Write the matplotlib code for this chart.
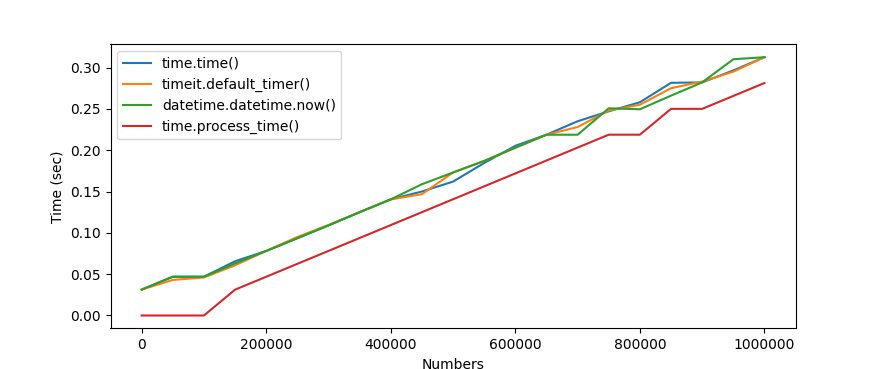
import matplotlib
matplotlib.use('Agg')
import matplotlib.pyplot as plt

# --- данные ---
numbers = list(range(0, 1000001, 50000))

t_time = [0.0313, 0.0469, 0.0469, 0.0656, 0.0781, 0.0935, 0.1090, 0.1250, 0.1405,
          0.1500, 0.1620, 0.1845, 0.2053, 0.2187, 0.2350, 0.2470, 0.2580, 0.2815,
          0.2820, 0.2965, 0.3125]
t_timeit = [0.0313, 0.0430, 0.0460, 0.0607, 0.0781, 0.0950, 0.1095, 0.1250, 0.1405,
            0.1467, 0.1730, 0.1870, 0.2030, 0.2187, 0.2280, 0.2480, 0.2550, 0.2750,
            0.2830, 0.2950, 0.3125]
t_datetime = [0.0313, 0.0469, 0.0469, 0.0630, 0.0781, 0.0935, 0.1090, 0.1250, 0.1405,
              0.1588, 0.1730, 0.1870, 0.2030, 0.2187, 0.2187, 0.2507, 0.2495, 0.2660,
              0.2820, 0.3100, 0.3125]
t_process = [0.0, 0.0, 0.0, 0.03125, 0.046875, 0.0625, 0.078125, 0.09375, 0.109375,
             0.125, 0.140625, 0.15625, 0.171875, 0.1875, 0.203125, 0.21875, 0.21875,
             0.25, 0.25, 0.265625, 0.28125]

labels = ['time.time()', 'timeit.default_timer()', 'datetime.datetime.now()',
          'time.process_time()']

fig, ax = plt.subplots(figsize=(8.84, 3.69), dpi=100)
for series, name in zip([t_time, t_timeit, t_datetime, t_process], labels):
    ax.plot(numbers, series, label=name)

ax.set_xlabel('Numbers')
ax.set_ylabel('Time (sec)')
ax.ticklabel_format(style='plain', axis='x')
ax.legend(loc='upper left')

plt.savefig('out.png', dpi=100)
